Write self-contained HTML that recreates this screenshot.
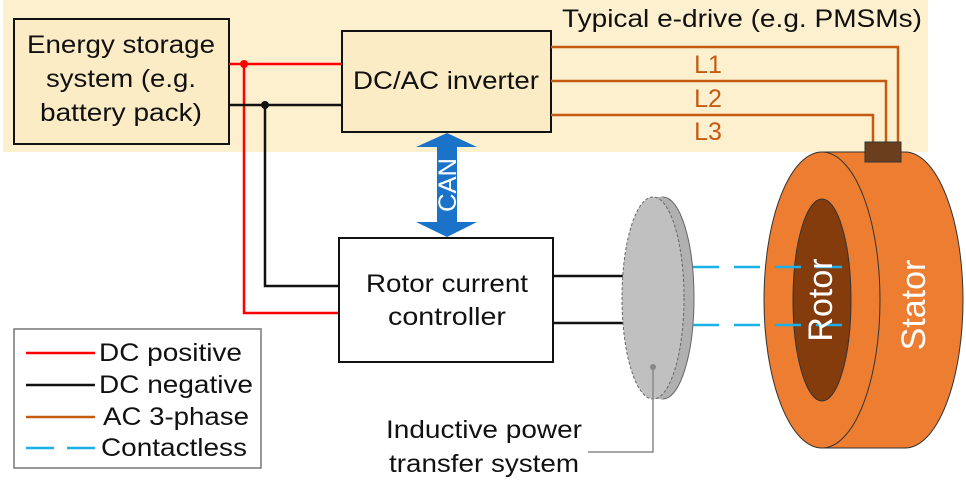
<!DOCTYPE html>
<html><head><style>body{margin:0;background:#fff}svg{display:block}text{font-family:"Liberation Sans",Arial,sans-serif}</style></head><body>
<svg width="966" height="482" viewBox="0 0 966 482" xmlns="http://www.w3.org/2000/svg">
<rect x="3" y="0" width="925" height="152" fill="#fdf0cf"/>
<text x="742" y="27" font-size="25" text-anchor="middle" fill="#111" textLength="360" lengthAdjust="spacingAndGlyphs">Typical e-drive (e.g. PMSMs)</text>
<rect x="14" y="19" width="215" height="125" fill="#fcecc6" stroke="#111" stroke-width="2"/>
<g font-size="25" text-anchor="middle" fill="#111" lengthAdjust="spacingAndGlyphs">
<text x="121" y="53" textLength="188" lengthAdjust="spacingAndGlyphs">Energy storage</text>
<text x="121" y="87" textLength="150" lengthAdjust="spacingAndGlyphs">system (e.g.</text>
<text x="121" y="121" textLength="162" lengthAdjust="spacingAndGlyphs">battery pack)</text>
</g>
<rect x="342" y="31" width="209" height="101" fill="#fcecc6" stroke="#111" stroke-width="2"/>
<text x="446" y="89" font-size="25" text-anchor="middle" fill="#111" textLength="186" lengthAdjust="spacingAndGlyphs">DC/AC inverter</text>
<g stroke="#c55a11" stroke-width="2.5" fill="none">
<polyline points="551,47 898,47 898,145"/><polyline points="551,81 886,81 886,145"/><polyline points="551,115 873,115 873,145"/></g>
<g font-size="25" fill="#c55a11" text-anchor="middle"><text x="708" y="73">L1</text><text x="708" y="107">L2</text><text x="708" y="140">L3</text></g>
<g fill="none" stroke-width="2.5">
<polyline stroke="#ff0000" points="229,64 342,64"/><polyline stroke="#ff0000" points="244,64 244,313 339,313"/>
<polyline stroke="#111" points="229,105 342,105"/><polyline stroke="#111" points="265,105 265,286 339,286"/>
<line stroke="#111" x1="553" y1="276" x2="640" y2="276"/><line stroke="#111" x1="553" y1="323" x2="640" y2="323"/></g>
<circle cx="244" cy="64" r="4" fill="#ff0000"/><circle cx="265" cy="105" r="4" fill="#111"/>
<polygon points="447,133 477,147 457,147 457,222 477,222 447,237 416,222 437,222 437,147 416,147" fill="#1a73c8"/>
<text transform="translate(456,185) rotate(-90)" font-size="25" fill="#fff" text-anchor="middle" textLength="54" lengthAdjust="spacingAndGlyphs">CAN</text>
<rect x="339" y="238" width="214" height="124" fill="#fff" stroke="#111" stroke-width="2"/>
<text x="447" y="292" font-size="25" text-anchor="middle" fill="#111" textLength="162" lengthAdjust="spacingAndGlyphs">Rotor current</text>
<text x="447" y="325" font-size="25" text-anchor="middle" fill="#111" textLength="118" lengthAdjust="spacingAndGlyphs">controller</text>
<!-- disc -->
<ellipse cx="663" cy="298" rx="31" ry="101" fill="#b0b0b0" stroke="#666" stroke-width="1"/>
<rect x="653" y="197" width="10" height="202" fill="#b0b0b0"/>
<ellipse cx="653" cy="298" rx="31" ry="101" fill="#c0c0c0" stroke="#666" stroke-width="1" stroke-dasharray="3,2"/>
<polyline points="653,367 653,452 588,452" fill="none" stroke="#888" stroke-width="1.5"/>
<circle cx="653" cy="367" r="3" fill="#888"/>
<!-- stator -->
<path d="M822,152 L905,152 A58,148 0 0 1 905,448 L822,448 A58,148 0 0 1 822,152 Z" fill="#ed7d31" stroke="#333" stroke-width="1"/>
<path d="M822,152 A58,148 0 0 1 822,448" fill="none" stroke="#333" stroke-width="1"/>
<ellipse cx="822" cy="300" rx="29" ry="101" fill="#843c0c" stroke="#333" stroke-width="1"/>
<rect x="865" y="142" width="36" height="20" fill="#6b3f1e" stroke="#333"/>
<g stroke="#1cb0e8" stroke-width="2.5" stroke-dasharray="26,15"><line x1="693" y1="267" x2="843" y2="267"/><line x1="693" y1="325" x2="843" y2="325"/></g>
<text transform="translate(832,300) rotate(-90)" font-size="34" fill="#fff" text-anchor="middle">Rotor</text>
<text transform="translate(925,305) rotate(-90)" font-size="34" fill="#fff" text-anchor="middle">Stator</text>
<text x="484" y="438" font-size="25" text-anchor="middle" fill="#111" textLength="196" lengthAdjust="spacingAndGlyphs">Inductive power</text>
<text x="484" y="472" font-size="25" text-anchor="middle" fill="#111" textLength="190" lengthAdjust="spacingAndGlyphs">transfer system</text>
<!-- legend -->
<rect x="14" y="329" width="247" height="139" fill="#fff" stroke="#777" stroke-width="1.5"/>
<g stroke-width="2.5"><line x1="26" y1="353" x2="95" y2="353" stroke="#ff0000"/><line x1="26" y1="385" x2="95" y2="385" stroke="#111"/><line x1="26" y1="417" x2="95" y2="417" stroke="#c55a11"/><line x1="26" y1="448" x2="95" y2="448" stroke="#1cb0e8" stroke-dasharray="28,13"/></g>
<g font-size="25" fill="#111">
<text x="99" y="361" textLength="143" lengthAdjust="spacingAndGlyphs">DC positive</text>
<text x="99" y="393" textLength="154" lengthAdjust="spacingAndGlyphs">DC negative</text>
<text x="103" y="425" textLength="146" lengthAdjust="spacingAndGlyphs">AC 3-phase</text>
<text x="101" y="456" textLength="146" lengthAdjust="spacingAndGlyphs">Contactless</text></g>
</svg>
</body></html>
